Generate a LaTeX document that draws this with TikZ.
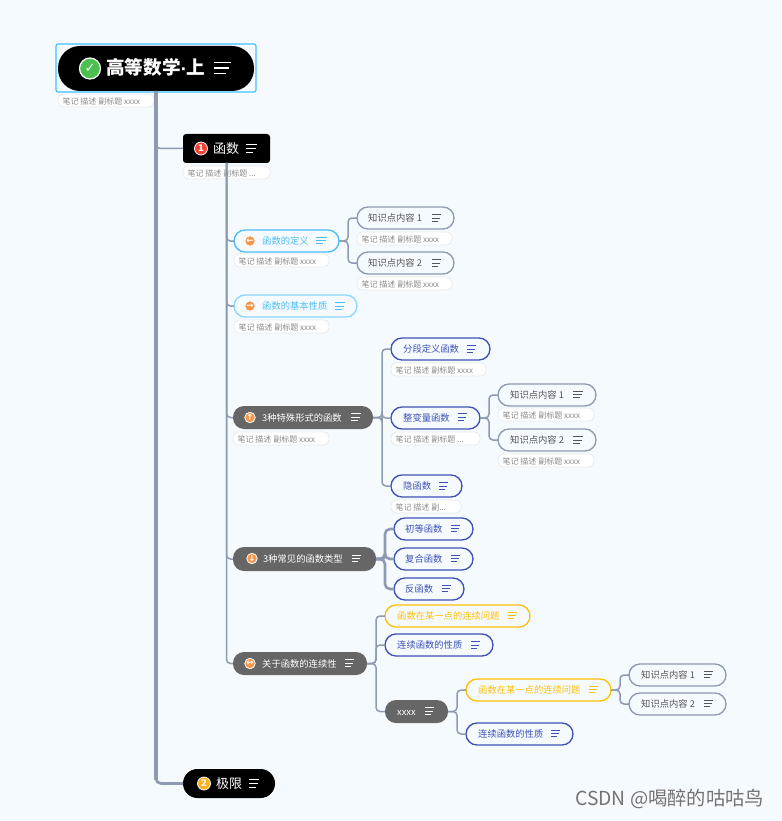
\documentclass[tikz,border=0pt]{standalone}
\usepackage{fontspec}
\setmainfont{Noto Sans CJK SC}
\newfontfamily\symfont{DejaVu Sans}
\usetikzlibrary{calc}
\definecolor{bgc}{HTML}{F5FAFF}
\definecolor{linec}{HTML}{8E9AB0}
\definecolor{darkc}{HTML}{666666}
\definecolor{cyanc}{HTML}{4FBDF7}
\definecolor{cyanl}{HTML}{8CD6FB}
\definecolor{bluec}{HTML}{3F51B5}
\definecolor{yelc}{HTML}{FFC107}
\definecolor{grayt}{HTML}{555555}
\definecolor{notec}{HTML}{E6EAF0}
\definecolor{notet}{HTML}{8A8A8A}
\definecolor{orgc}{HTML}{F7964A}
\definecolor{selc}{HTML}{3FC1FF}
\definecolor{grnc}{HTML}{4CBF50}
\definecolor{redc}{HTML}{F44336}
\definecolor{ambc}{HTML}{FBB11E}
\tikzset{
  x=1pt,y=-1pt,
  boxbase/.style={inner sep=0,outer sep=0,line width=1.35pt,fill=bgc},
  sharpblack/.style={boxbase,draw=none,fill=black,rounded corners=3pt},
  pillblack/.style={boxbase,draw=none,fill=black,rounded corners=14.5pt},
  rootblack/.style={boxbase,draw=none,fill=black,rounded corners=22pt},
  pilldark/.style={boxbase,draw=none,fill=darkc,rounded corners=11pt},
  pillcyan/.style={boxbase,draw=cyanc,rounded corners=11pt},
  pillcyanl/.style={boxbase,draw=cyanl,rounded corners=11pt},
  pillblue/.style={boxbase,draw=bluec,rounded corners=11pt},
  pillyel/.style={boxbase,draw=yelc,rounded corners=11pt},
  pillgray/.style={boxbase,draw=linec,rounded corners=11pt},
  notebox/.style={inner sep=0,outer sep=0,draw=notec,line width=.8pt,fill=white,rounded corners=5pt},
  notetext/.style={inner sep=0,anchor=mid west,yshift=-.8pt,text=notet,font=\fontsize{8}{9}\selectfont},
  label/.style={inner sep=0,anchor=mid west,yshift=-1.2pt},
  conn/.style={draw=linec,line width=1.5pt,rounded corners=4pt},
  connwide/.style={draw=linec,line width=2.6pt,rounded corners=5pt},
  trunk/.style={draw=linec,line width=4.8pt},
  iconbase/.style={circle,inner sep=0,outer sep=0,draw=white,line width=.8pt,text=white},
  iconorg/.style={iconbase,fill=orgc,minimum size=10.5pt,font=\symfont\bfseries\fontsize{8.5}{8.5}\selectfont},
  selbox/.style={draw=selc,line width=1.2pt,rounded corners=2pt,inner sep=0,outer sep=0},
}
% name, style, x1,y1,x2,y2, text x, text colour, text
\newcommand{\mmbox}[9]{%
  \pgfmathsetmacro{\mmw}{#5-#3}\pgfmathsetmacro{\mmh}{#6-#4}%
  \pgfmathsetmacro{\mmcx}{(#3+#5)/2}\pgfmathsetmacro{\mmcy}{(#4+#6)/2}%
  \node[#2,minimum width=\mmw pt,minimum height=\mmh pt] (#1) at (\mmcx,\mmcy) {};%
  \node[label,text=#8,font=\fontsize{9.3}{11}\selectfont] (#1-t) at (#7,\mmcy) {#9};%
}
% menu icon: x1, x2, centre y, gap, colour, width
\newcommand{\mmmenu}[6]{%
  \pgfmathsetmacro{\mma}{#2-(#2-#1)*0.12}\pgfmathsetmacro{\mmb}{#1+(#2-#1)*0.68}%
  \draw[#5,line width=#6pt] (#1,#3-#4) -- (#2,#3-#4) (#1,#3) -- (\mma,#3) (#1,#3+#4) -- (\mmb,#3+#4);%
}
\newcommand{\mmnote}[6]{%
  \pgfmathsetmacro{\mmw}{#4-#2}\pgfmathsetmacro{\mmcx}{(#2+#4)/2}\pgfmathsetmacro{\mmcy}{#3+6.5}%
  \node[notebox,minimum width=\mmw pt,minimum height=13pt] (#1) at (\mmcx,\mmcy) {};%
  \node[notetext] (#1-t) at (#2+4.5,\mmcy) {#6};%
}
\newcommand{\mmconn}[2]{\draw[conn] (#1.east) -- ([xshift=9pt]#1.east) |- (#2.west);}
\newcommand{\notefull}{笔记 描述 副标题 xxxx}
\begin{document}
\begin{tikzpicture}
\useasboundingbox (0,0) rectangle (781,821);
\fill[bgc] (0,0) rectangle (781,821);
% root
\node[selbox,draw,minimum width=200pt,minimum height=48pt] (sel) at (156,68) {};
\node[rootblack,minimum width=196pt,minimum height=45pt] (root) at (156,68.5) {};
\node[iconbase,fill=grnc,line width=1.2pt,minimum size=21pt,font=\symfont\bfseries\fontsize{13}{13}\selectfont] (rooti) at (90,68.5) {✓};
\node[label,text=white,font=\bfseries\fontsize{18.6}{22}\selectfont] (root-t) at (106,71) {高等数学{\symfont\fontsize{15}{15}\selectfont ·}上};
\mmmenu{214}{231}{68}{5.5}{white}{1.3}
\mmnote{rootn}{58}{94}{154}{107}{\notefull}
% function
\mmbox{func}{sharpblack}{183}{134}{270}{163}{213}{white}{\raisebox{-1pt}{\fontsize{13}{15}\selectfont 函数}}
\node[iconbase,fill=redc,minimum size=13pt,font=\symfont\bfseries\fontsize{9}{9}\selectfont] (funci) at (201,148.5) {1};
\mmmenu{246}{257}{148.5}{3.6}{white}{1.1}
\mmnote{funcn}{183}{166}{270}{179}{笔记 描述 副标题 ...}
% definition
\mmbox{def}{pillcyan}{234}{230}{339}{252}{262}{cyanc}{函数的定义}
\node[iconorg] (defi) at (250,241) {←};
\mmmenu{316}{327}{240.5}{3.3}{cyanc}{1}
\mmnote{defn}{234}{254}{329}{267}{\notefull}
\mmbox{ka}{pillgray}{357}{207}{454}{229}{368}{grayt}{知识点内容 1}
\mmmenu{432}{441}{218}{3.3}{grayt}{.9}
\mmnote{kan}{357}{232}{452}{245}{\notefull}
\mmbox{kb}{pillgray}{357}{252}{454}{274}{368}{grayt}{知识点内容 2}
\mmmenu{432}{441}{263}{3.3}{grayt}{.9}
\mmnote{kbn}{357}{277}{452}{290}{\notefull}
% basic properties
\mmbox{prop}{pillcyanl}{234}{295}{357}{317}{262}{cyanc}{函数的基本性质}
\node[iconorg] (propi) at (250,306) {→};
\mmmenu{335}{345}{306}{3.3}{cyanc}{1}
\mmnote{propn}{234}{320}{329}{333}{\notefull}
% three special forms
\mmbox{spec}{pilldark}{233}{406}{373}{429}{262}{white}{3种特殊形式的函数}
\node[iconorg] (speci) at (250,417.5) {↑};
\mmmenu{351}{361}{417}{3.3}{white}{1}
\mmnote{specn}{233}{432}{329}{445}{\notefull}
\mmbox{seg}{pillblue}{391}{338}{490}{360}{403}{bluec}{分段定义函数}
\mmmenu{467}{476}{349}{3.3}{bluec}{.9}
\mmnote{segn}{391}{363}{486}{376}{\notefull}
\mmbox{whole}{pillblue}{391}{407}{480}{429}{403}{bluec}{整变量函数}
\mmmenu{458}{467}{417}{3.3}{bluec}{.9}
\mmnote{wholen}{391}{432}{480}{445}{笔记 描述 副标题 ...}
\mmbox{hid}{pillblue}{391}{475}{462}{497}{403}{bluec}{隐函数}
\mmmenu{439}{448}{486}{3.3}{bluec}{.9}
\mmnote{hidn}{391}{500}{461}{513}{笔记 描述 副...}
\mmbox{kc}{pillgray}{498}{384}{596}{406}{510}{grayt}{知识点内容 1}
\mmmenu{573}{583}{394.5}{3.3}{grayt}{.9}
\mmnote{kcn}{498}{408}{594}{421}{\notefull}
\mmbox{kd}{pillgray}{498}{429}{596}{451}{510}{grayt}{知识点内容 2}
\mmmenu{573}{583}{440}{3.3}{grayt}{.9}
\mmnote{kdn}{498}{454}{594}{467}{\notefull}
% three common types
\mmbox{comm}{pilldark}{233}{547}{376}{571}{263}{white}{3种常见的函数类型}
\node[iconorg] (commi) at (252,558.5) {↓};
\mmmenu{352}{361}{558.5}{3.3}{white}{1}
\mmbox{elem}{pillblue}{394}{518}{473}{540}{405}{bluec}{初等函数}
\mmmenu{451}{460}{528.5}{3.3}{bluec}{.9}
\mmbox{comp}{pillblue}{394}{548}{473}{570}{405}{bluec}{复合函数}
\mmmenu{451}{460}{558.5}{3.3}{bluec}{.9}
\mmbox{inv}{pillblue}{394}{578}{464}{600}{405}{bluec}{反函数}
\mmmenu{442}{451}{588.5}{3.3}{bluec}{.9}
% continuity
\mmbox{cont}{pilldark}{233}{652}{367}{675}{262}{white}{关于函数的连续性}
\node[iconorg] (conti) at (250,663.5) {↔};
\mmmenu{345}{354}{663}{3.3}{white}{1}
\mmbox{pta}{pillyel}{385}{605}{530}{627}{397}{yelc}{函数在某一点的连续问题}
\mmmenu{508}{517}{615.5}{3.3}{yelc}{.9}
\mmbox{cpa}{pillblue}{385}{634}{493}{656}{397}{bluec}{连续函数的性质}
\mmmenu{471}{480}{645}{3.3}{bluec}{.9}
\mmbox{xx}{pilldark}{385}{700}{448}{723}{397}{white}{xxxx}
\mmmenu{425}{434}{711}{3.3}{white}{1}
\mmbox{ptb}{pillyel}{466}{679}{611}{701}{478}{yelc}{函数在某一点的连续问题}
\mmmenu{589}{598}{689.5}{3.3}{yelc}{.9}
\mmbox{cpb}{pillblue}{466}{723}{573}{745}{478}{bluec}{连续函数的性质}
\mmmenu{551}{560}{733.5}{3.3}{bluec}{.9}
\mmbox{ke}{pillgray}{629}{664}{726}{686}{641}{grayt}{知识点内容 1}
\mmmenu{704}{713}{674.5}{3.3}{grayt}{.9}
\mmbox{kf}{pillgray}{629}{693}{726}{715}{641}{grayt}{知识点内容 2}
\mmmenu{704}{713}{703.5}{3.3}{grayt}{.9}
% limit
\mmbox{lim}{pillblack}{183}{769}{275}{798}{216}{white}{\raisebox{-1pt}{\fontsize{13}{15}\selectfont 极限}}
\node[iconbase,fill=ambc,minimum size=13pt,font=\symfont\bfseries\fontsize{9}{9}\selectfont] (limi) at (204,783.5) {2};
\mmmenu{249}{259}{783.5}{3.6}{white}{1.1}
% connectors
\draw[connwide] (root.south) |- (lim.west);
\draw[trunk] (root.south) -- ([yshift=4pt]root.south |- lim.west);
\draw[conn] (root.south) |- (func.west);
\draw[conn] (func.south) |- (def.west);
\draw[conn] (func.south) |- (prop.west);
\draw[conn] (func.south) |- (spec.west);
\draw[conn] (func.south) |- (comm.west);
\draw[conn] (func.south) |- (cont.west);
\mmconn{def}{ka}\mmconn{def}{kb}
\mmconn{spec}{seg}\mmconn{spec}{whole}\mmconn{spec}{hid}
\mmconn{whole}{kc}\mmconn{whole}{kd}
\draw[connwide] (comm.east) -- ([xshift=9pt]comm.east) |- (elem.west);
\draw[connwide] (comm.east) -- ([xshift=9pt]comm.east) |- (comp.west);
\draw[connwide] (comm.east) -- ([xshift=9pt]comm.east) |- (inv.west);
\mmconn{cont}{pta}\mmconn{cont}{cpa}\mmconn{cont}{xx}
\mmconn{xx}{ptb}\mmconn{xx}{cpb}
\mmconn{ptb}{ke}\mmconn{ptb}{kf}
% watermark
\node[label,text=black!55,font=\fontsize{19.3}{22}\selectfont] (mark) at (575,802) {CSDN @喝醉的咕咕鸟};
\end{tikzpicture}
\end{document}
